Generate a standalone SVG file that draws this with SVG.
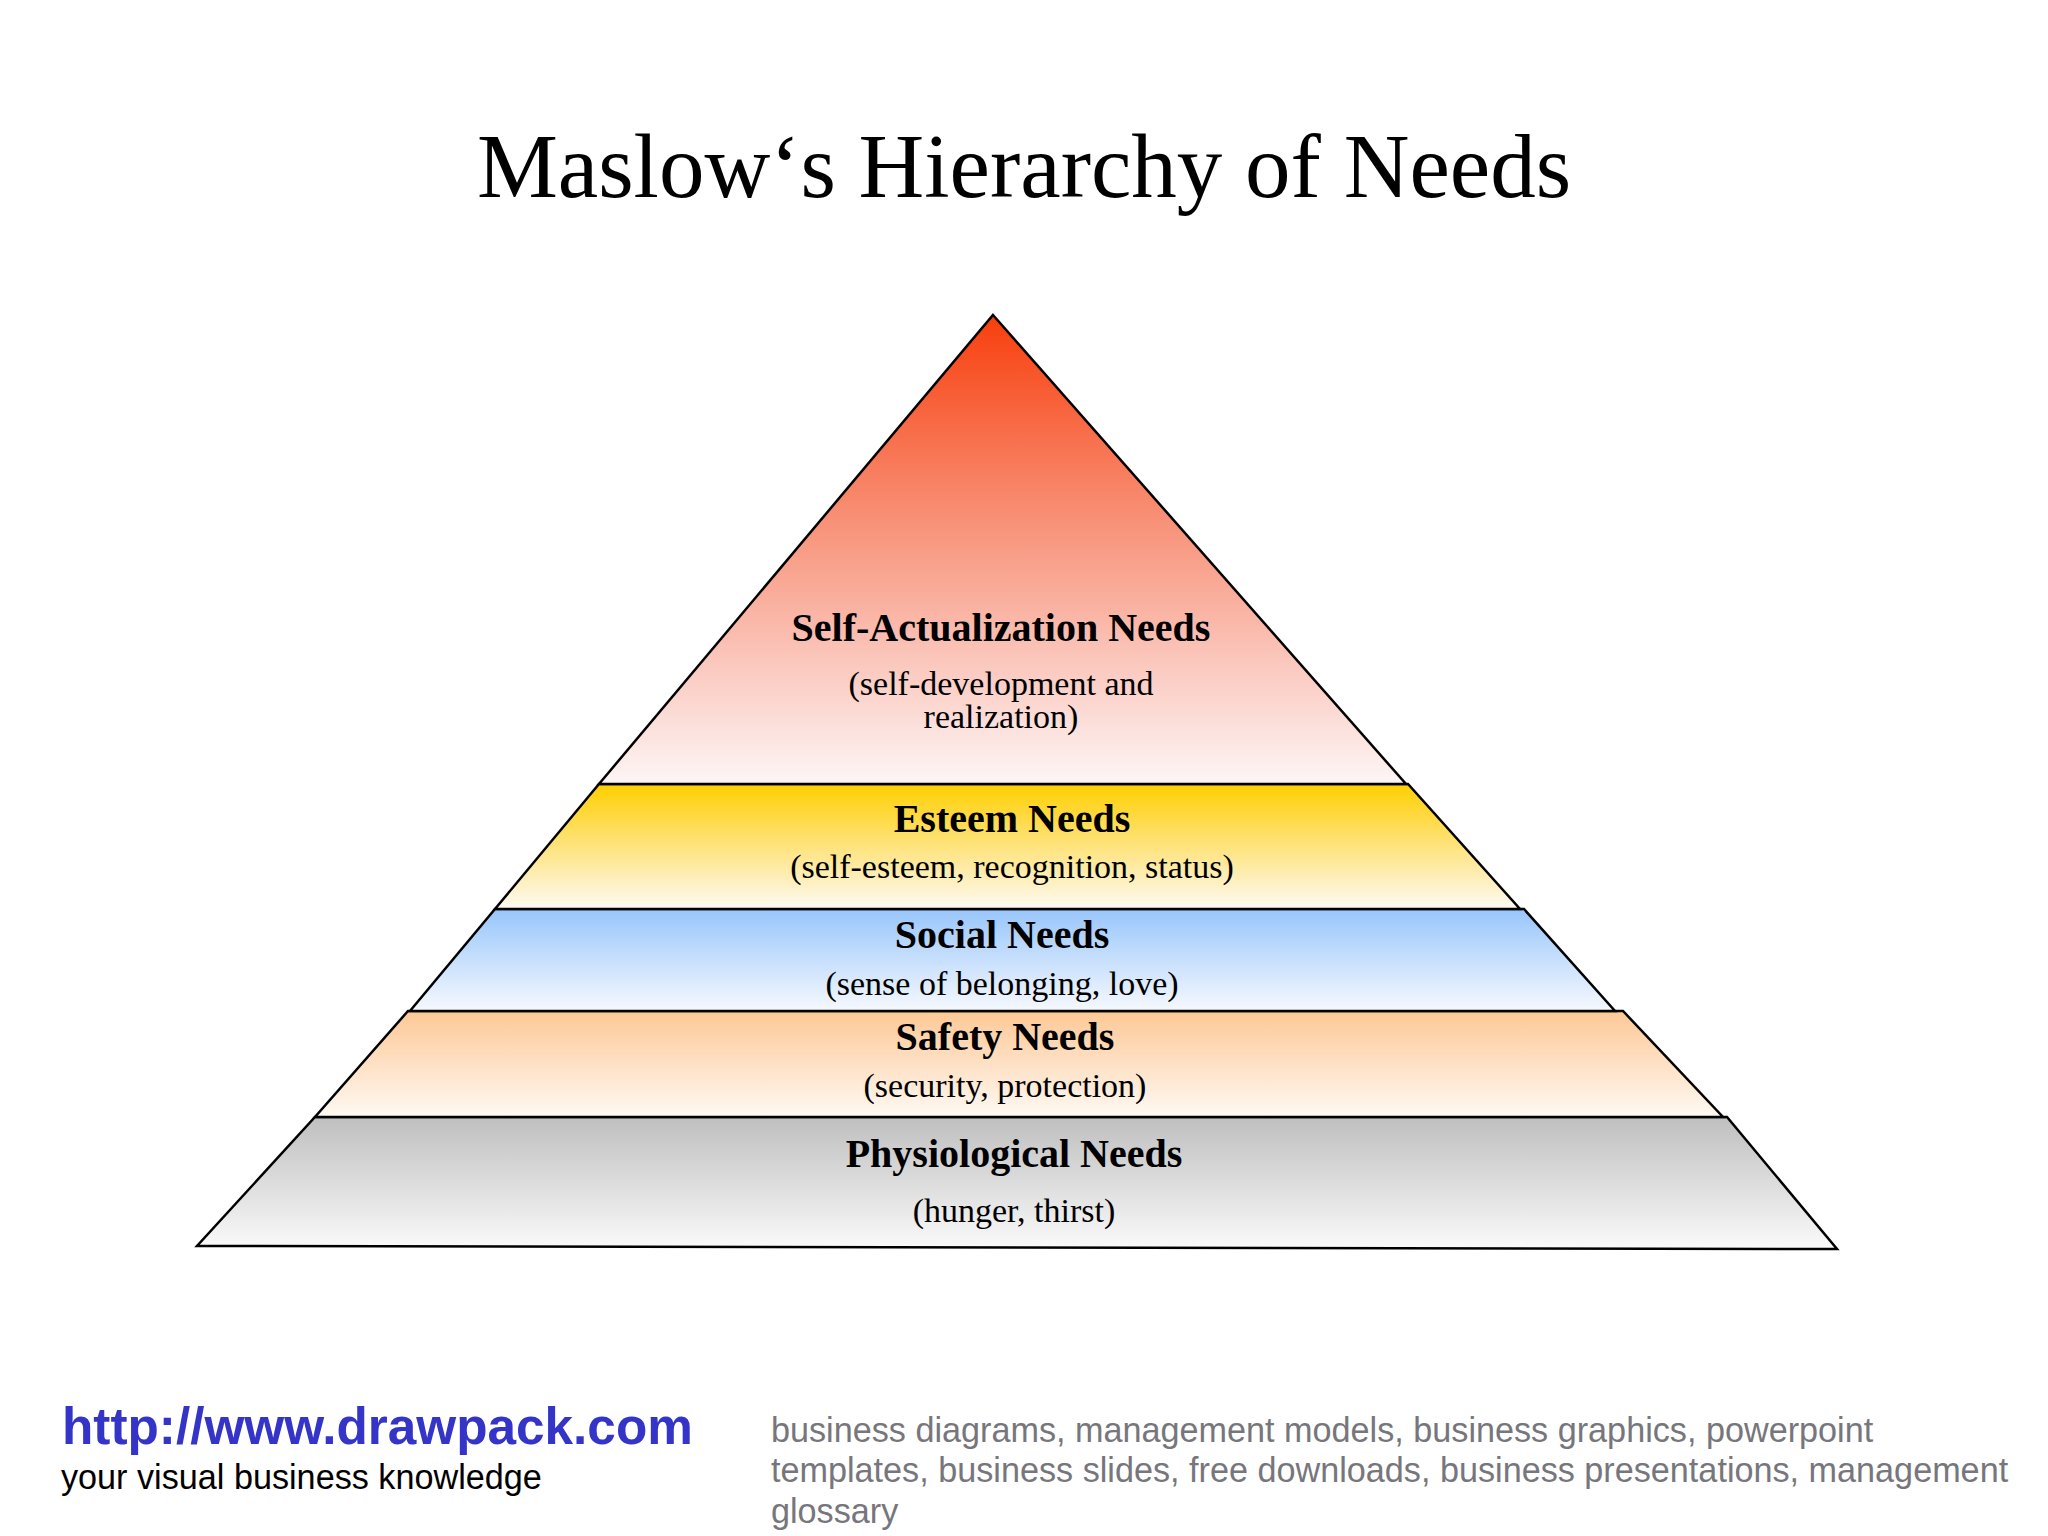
<svg xmlns="http://www.w3.org/2000/svg" width="2048" height="1536" viewBox="0 0 2048 1536">
<defs>
<linearGradient id="gSelf" x1="0" y1="315" x2="0" y2="784" gradientUnits="userSpaceOnUse">
<stop offset="0" stop-color="#f83e0c"/>
<stop offset="0.45" stop-color="#f8937a"/>
<stop offset="0.75" stop-color="#fbc9bf"/>
<stop offset="1" stop-color="#fdf6f6"/>
</linearGradient>
<linearGradient id="gEsteem" x1="0" y1="784" x2="0" y2="909" gradientUnits="userSpaceOnUse">
<stop offset="0" stop-color="#ffcf00"/>
<stop offset="0.5" stop-color="#fee37d"/>
<stop offset="1" stop-color="#fefaf3"/>
</linearGradient>
<linearGradient id="gSocial" x1="0" y1="909" x2="0" y2="1011" gradientUnits="userSpaceOnUse">
<stop offset="0" stop-color="#98c6fb"/>
<stop offset="1" stop-color="#f6f9fe"/>
</linearGradient>
<linearGradient id="gSafety" x1="0" y1="1011" x2="0" y2="1117" gradientUnits="userSpaceOnUse">
<stop offset="0" stop-color="#fdc896"/>
<stop offset="1" stop-color="#fff9f3"/>
</linearGradient>
<linearGradient id="gPhys" x1="0" y1="1117" x2="0" y2="1249" gradientUnits="userSpaceOnUse">
<stop offset="0" stop-color="#bfbfbf"/>
<stop offset="1" stop-color="#fafafa"/>
</linearGradient>
</defs>
<style>
.tier { stroke: #000; stroke-width: 2.5; stroke-linejoin: miter; }
.head { font-family: "Liberation Serif", "Times New Roman", serif; font-weight: bold; font-size: 40px; fill: #000; text-anchor: middle; }
.sub { font-family: "Liberation Serif", "Times New Roman", serif; font-size: 34px; fill: #000; text-anchor: middle; }
.title { font-family: "Liberation Serif", "Times New Roman", serif; font-size: 91px; fill: #000; text-anchor: middle; }
.url { font-family: "Liberation Sans", Arial, sans-serif; font-weight: bold; font-size: 51.3px; fill: #3434c8; }
.tag { font-family: "Liberation Sans", Arial, sans-serif; font-size: 34.2px; fill: #000; }
.kw { font-family: "Liberation Sans", Arial, sans-serif; font-size: 34.2px; fill: #76767c; }
</style>
<rect width="2048" height="1536" fill="#ffffff"/>
<text class="title" x="1024" y="197">Maslow‘s Hierarchy of Needs</text>

<g id="physiological">
<polygon class="tier" fill="url(#gPhys)" points="315,1117 1727,1117 1837,1249 197,1246"/>
<text class="head" x="1014" y="1167">Physiological Needs</text>
<text class="sub" x="1014" y="1222">(hunger, thirst)</text>
</g>
<g id="safety">
<polygon class="tier" fill="url(#gSafety)" points="408,1011 1623,1011 1723,1117 315,1117"/>
<text class="head" x="1005" y="1050">Safety Needs</text>
<text class="sub" x="1005" y="1097">(security, protection)</text>
</g>
<g id="social">
<polygon class="tier" fill="url(#gSocial)" points="495,909 1524,909 1615,1011 410,1011"/>
<text class="head" x="1002" y="948">Social Needs</text>
<text class="sub" x="1002" y="995">(sense of belonging, love)</text>
</g>
<g id="esteem">
<polygon class="tier" fill="url(#gEsteem)" points="599,784 1408,784 1520,909 495,909"/>
<text class="head" x="1012" y="832">Esteem Needs</text>
<text class="sub" x="1012" y="878">(self-esteem, recognition, status)</text>
</g>
<g id="self-actualization">
<polygon class="tier" fill="url(#gSelf)" points="993,315 1406,784 599,784"/>
<text class="head" x="1001" y="641">Self-Actualization Needs</text>
<text class="sub" x="1001" y="695">(self-development and</text>
<text class="sub" x="1001" y="728">realization)</text>
</g>
<g id="connectors"></g>

<g id="footer">
<text class="url" x="62" y="1444">http://www.drawpack.com</text>
<text class="tag" x="61" y="1489">your visual business knowledge</text>
<text class="kw" x="771" y="1442">business diagrams, management models, business graphics, powerpoint</text>
<text class="kw" x="771" y="1482">templates, business slides, free downloads, business presentations, management</text>
<text class="kw" x="771" y="1523">glossary</text>
</g>
</svg>
